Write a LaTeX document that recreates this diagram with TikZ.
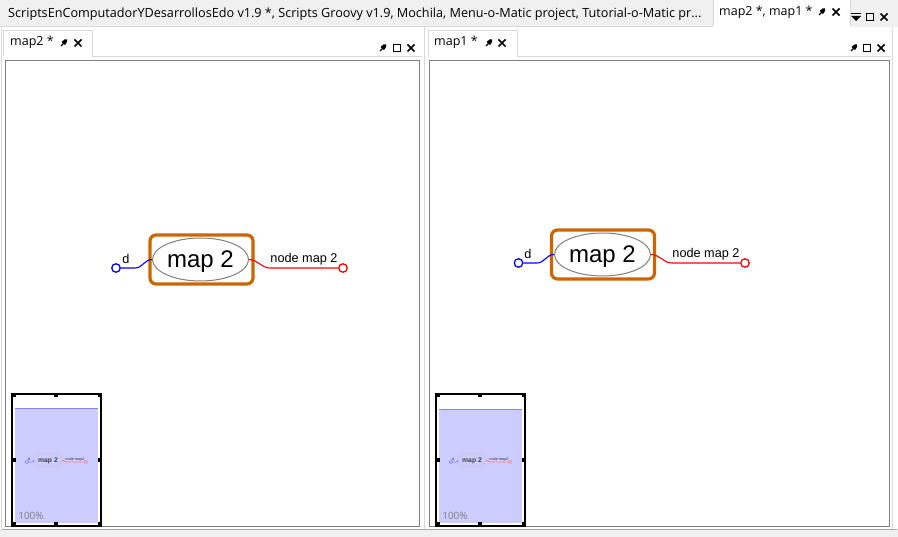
\documentclass[tikz,border=0pt]{standalone}
\usepackage{fontspec}
\setmainfont{Liberation Sans}
\newfontfamily\uifont{Open Sans}
\usetikzlibrary{shapes.geometric}
\definecolor{uibg}{HTML}{F0F0F0}
\definecolor{uiline}{HTML}{D9D9D9}
\definecolor{mapline}{HTML}{CC6600}
\definecolor{minifill}{HTML}{CCCCFF}
\tikzset{
    uitext/.style={anchor=west,inner sep=0pt,font=\uifont\fontsize{12.5}{14}\selectfont},
    mapbox/.style={draw=mapline,line width=3.2pt,rounded corners=6pt,minimum width=103pt,minimum height=49pt},
    mapnode/.style={draw=gray,line width=1pt,ellipse,inner sep=0pt,text height=17pt,text depth=0pt,minimum width=96pt,minimum height=43pt,font=\fontsize{24}{26}\selectfont},
    childtext/.style={inner sep=0pt,font=\fontsize{12.7}{14}\selectfont},
    enddot/.style={circle,draw,line width=1.3pt,fill=white,inner sep=0pt,minimum size=8.5pt},
    edgeline/.style={line width=1.1pt},
    minibox/.style={draw=black,line width=1.2pt,fill=white},
    handle/.style={fill=black,inner sep=0pt,minimum size=4pt},
    miniarea/.style={fill=minifill},
    mininode/.style={draw=gray!45,ellipse,inner sep=0pt,text height=6pt,text depth=0pt,minimum width=28pt,minimum height=15pt,font=\bfseries\fontsize{6.8}{8}\selectfont,text=black!75},
    minitext/.style={inner sep=0pt,font=\fontsize{3.8}{4}\selectfont,text=black!80},
    minidot/.style={circle,draw,line width=.7pt,inner sep=0pt,minimum size=3.5pt},
    miniline/.style={line width=.8pt},
    zoomtext/.style={inner sep=0pt,text=gray,font=\uifont\fontsize{10}{12}\selectfont},
    closeicon/.pic={\draw[line width=1.5pt] (-3.5,-3.5) -- (3.5,3.5) (-3.5,3.5) -- (3.5,-3.5);},
    maxicon/.pic={\draw[line width=1.5pt] (-3.5,-3.5) rectangle (3.5,3.5);},
    pinicon/.pic={\draw[line width=1.2pt] (-3,3) -- (0,0); \fill (-2.5,-1) -- (0.5,-3.5) -- (3,-3.5) -- (3,-1) -- (1,2) -- cycle;},
    downicon/.pic={\fill (-5,-1) -- (5,-1) -- (0,4) -- cycle; \draw[line width=1.5pt] (-5,-3.5) -- (5,-3.5);}
}
\begin{document}
\begin{tikzpicture}[x=1pt,y=-1pt]
    \useasboundingbox (0,0) rectangle (898,537);
    \fill[uibg] (0,0) rectangle (898,537);
    \fill[white] (0,27) rectangle (898,529);
    \draw[uiline] (0,26) -- (713,26);
    \fill[white] (713,0) rectangle (850,27);
    \draw[uiline] (713,0) -- (713,26) (850,0) -- (850,26);
    \draw[gray!70] (1.5,529.5) -- (896.5,529.5);
    \draw[uiline] (1.5,27) -- (1.5,529) (424.5,27) -- (424.5,529) (892.5,27) -- (892.5,529);

    \node[uitext,font=\uifont\fontsize{12.65}{14}\selectfont] (grouptabs) at (8,14) {ScriptsEnComputadorYDesarrollosEdo v1.9 *, Scripts Groovy v1.9, Mochila, Menu-o-Matic project, Tutorial-o-Matic pr...};
    \node[uitext] (activetab) at (719,12) {map2 *, map1 *};
    \pic at (822,12) {pinicon};
    \pic at (836,12) {closeicon};
    \pic at (856,17) {downicon};
    \pic at (870,17) {maxicon};
    \pic at (884,17) {closeicon};

    \draw[uiline,fill=white] (3,56.5) -- (3,30.5) -- (92,30.5) -- (92,56.5);
    \draw[uiline] (92,56.5) -- (422,56.5);
    \node[uitext] (lefttab) at (10,42) {map2 *};
    \pic at (64,43) {pinicon};
    \pic at (78,43) {closeicon};
    \pic at (383,48) {pinicon};
    \pic at (397,48) {maxicon};
    \pic at (411,48) {closeicon};
    \draw[gray,line width=1pt] (5.5,60.5) rectangle (419.5,526.5);

    \draw[uiline,fill=white] (428,56.5) -- (428,30.5) -- (517,30.5) -- (517,56.5);
    \draw[uiline] (517,56.5) -- (891,56.5);
    \node[uitext] (righttab) at (434,42) {map1 *};
    \pic at (489,43) {pinicon};
    \pic at (502,43) {closeicon};
    \pic at (854,48) {pinicon};
    \pic at (867,48) {maxicon};
    \pic at (881,48) {closeicon};
    \draw[gray,line width=1pt] (429.5,60.5) rectangle (889.5,526.5);

    \node[mapbox] (boxa) at (201.5,259.5) {};
    \node[mapnode] (mapa) at (200.5,259.5) {map 2};
    \node[enddot,draw=blue] (dota) at (116,268) {};
    \node[enddot,draw=red] (enda) at (343,268) {};
    \node[childtext] (da) at (126,258.5) {d};
    \node[childtext] (childa) at (304,259) {node map 2};
    \coordinate (dbenda) at (135,268);
    \coordinate (rbenda) at (270,268);
    \draw[blue,edgeline] (dota) -- (dbenda) to[out=0,in=180] (mapa.west);
    \draw[red,edgeline] (mapa.east) to[out=0,in=180] (rbenda) -- (enda);

    \node[mapbox] (boxb) at (603,254.5) {};
    \node[mapnode] (mapb) at (602.5,254.5) {map 2};
    \node[enddot,draw=blue] (dotb) at (518.5,263) {};
    \node[enddot,draw=red] (endb) at (745,263) {};
    \node[childtext] (db) at (528,253.5) {d};
    \node[childtext] (childb) at (706,254) {node map 2};
    \coordinate (dbendb) at (537,263);
    \coordinate (rbendb) at (672,263);
    \draw[blue,edgeline] (dotb) -- (dbendb) to[out=0,in=180] (mapb.west);
    \draw[red,edgeline] (mapb.east) to[out=0,in=180] (rbendb) -- (endb);

    \draw[minibox] (12,394) rectangle (101,526);
    \fill[miniarea] (15,408) rectangle (98,523);
    \draw[blue!35!minifill] (15,408) -- (98,408);
    \foreach \x/\y in {14/395,56/395,100/395,14/460,100/460,14/524.5,56/524.5,100/524.5}
        \node[handle] at (\x,\y) {};
    \node[mininode] (minimapa) at (48,460) {map 2};
    \node[minidot,draw=blue!50] (minidota) at (27,462) {};
    \node[minidot,draw=red!50] (miniinda) at (86,462) {};
    \node[minitext] (minida) at (29,459.5) {d};
    \node[minitext] (minichilda) at (75,459.5) {node map2};
    \coordinate (minidbenda) at (33,462);
    \coordinate (minirbenda) at (66,462);
    \draw[blue!50,miniline] (minidota) -- (minidbenda) to[out=0,in=180] (minimapa.west);
    \draw[red!50,miniline] (minimapa.east) to[out=0,in=180] (minirbenda) -- (miniinda);
    \node[zoomtext] (zooma) at (31,516) {100\%};

    \draw[minibox] (436,394) rectangle (525,526);
    \fill[miniarea] (439,409) rectangle (522,523);
    \draw[blue!35!minifill] (439,409) -- (522,409);
    \foreach \x/\y in {438/395,480/395,523.5/395,438/460,523.5/460,438/524.5,480/524.5,523.5/524.5}
        \node[handle] at (\x,\y) {};
    \node[mininode] (minimapb) at (472,460) {map 2};
    \node[minidot,draw=blue!50] (minidotb) at (451,462) {};
    \node[minidot,draw=red!50] (miniindb) at (510,462) {};
    \node[minitext] (minidb) at (453,459.5) {d};
    \node[minitext] (minichildb) at (499,459.5) {node map2};
    \coordinate (minidbendb) at (457,462);
    \coordinate (minirbendb) at (490,462);
    \draw[blue!50,miniline] (minidotb) -- (minidbendb) to[out=0,in=180] (minimapb.west);
    \draw[red!50,miniline] (minimapb.east) to[out=0,in=180] (minirbendb) -- (miniindb);
    \node[zoomtext] (zoomb) at (455,516) {100\%};
\end{tikzpicture}
\end{document}
